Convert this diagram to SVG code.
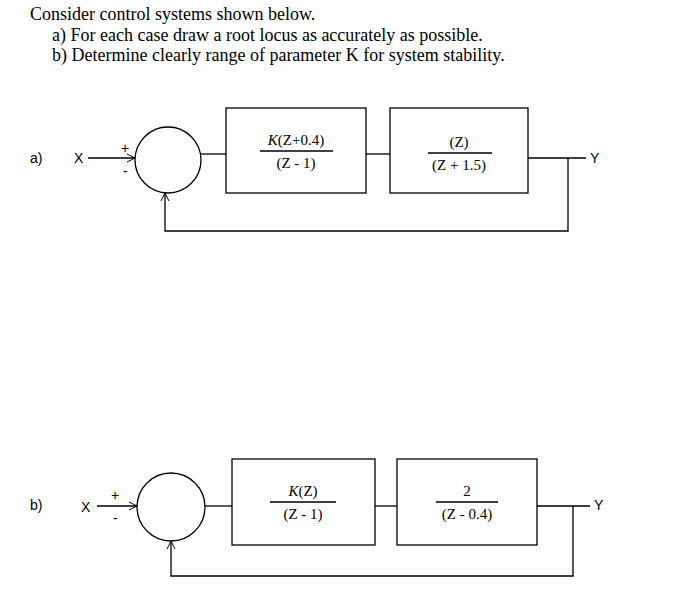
<svg xmlns="http://www.w3.org/2000/svg" width="682" height="605" viewBox="0 0 682 605">
<defs><marker id="ah" markerWidth="10" markerHeight="10" refX="9" refY="5" orient="auto" markerUnits="userSpaceOnUse"><path d="M1,1 L9,5 L1,9" fill="none" stroke="#000" stroke-width="1"/></marker></defs>
<style>
.t{font-family:"Liberation Serif",serif;font-size:18px;fill:#000}
.s{font-family:"Liberation Sans",sans-serif;font-size:14px;fill:#000}
.f{font-family:"Liberation Serif",serif;font-size:15px;fill:#000;text-anchor:middle}
.b{fill:#fff;stroke:#000;stroke-width:1.3}
.l{fill:none;stroke:#000;stroke-width:1.3}
</style>
<rect width="682" height="605" fill="#fff"/>
<text class="t" x="30" y="20">Consider control systems shown below.</text>
<text class="t" x="52" y="41">a) For each case draw a root locus as accurately as possible.</text>
<text class="t" x="52" y="61">b) Determine clearly range of parameter K for system stability.</text>
<g id="a">
<text class="s" x="30" y="163">a)</text>
<text class="s" x="74" y="163">X</text>
<text class="s" x="121" y="153" font-size="12">+</text>
<text class="s" x="123" y="176" font-size="12">-</text>
<g id="sumA"><ellipse class="b" cx="168" cy="160" rx="33" ry="33"/></g>
<g id="g1a"><rect class="b" x="226" y="108" width="140" height="85"/>
<text class="f" x="296" y="145"><tspan font-style="italic">K</tspan>(Z+0.4)</text><line class="l" x1="260" y1="151" x2="333" y2="151" stroke-width="0.8"/><text class="f" x="296" y="168">(Z - 1)</text></g>
<g id="g2a"><rect class="b" x="390" y="108" width="138" height="85"/>
<text class="f" x="459" y="147">(Z)</text><line class="l" x1="428" y1="153" x2="492" y2="153" stroke-width="0.8"/><text class="f" x="459" y="170">(Z  +  1.5)</text></g>
<text class="s" x="590" y="163">Y</text>
</g>
<g id="b">
<text class="s" x="30" y="510">b)</text>
<text class="s" x="81" y="512">X</text>
<text class="s" x="111" y="500" font-size="12">+</text>
<text class="s" x="113" y="523" font-size="12">-</text>
<g id="sumB"><ellipse class="b" cx="171" cy="507" rx="34" ry="34"/></g>
<g id="g1b"><rect class="b" x="232" y="459" width="143" height="86"/>
<text class="f" x="303" y="496"><tspan font-style="italic">K</tspan>(Z)</text><line class="l" x1="270" y1="502" x2="336" y2="502" stroke-width="0.8"/><text class="f" x="303" y="519">(Z - 1)</text></g>
<g id="g2b"><rect class="b" x="397" y="459" width="140" height="86"/>
<text class="f" x="467" y="496">2</text><line class="l" x1="436" y1="502" x2="498" y2="502" stroke-width="0.8"/><text class="f" x="467" y="519">(Z - 0.4)</text></g>
<text class="s" x="594" y="510">Y</text>
</g>
<g id="connectors">
<line class="l" x1="88" y1="158" x2="135" y2="158" marker-end="url(#ah)"/>
<line class="l" x1="201" y1="154" x2="226" y2="154"/>
<line class="l" x1="366" y1="154" x2="390" y2="154"/>
<line class="l" x1="528" y1="158" x2="586" y2="158"/>
<polyline class="l" points="568,158 568,231 165,231 165,193" marker-end="url(#ah)"/>
<line class="l" x1="97" y1="506" x2="137" y2="506" marker-end="url(#ah)"/>
<line class="l" x1="205" y1="506" x2="232" y2="506"/>
<line class="l" x1="375" y1="506" x2="397" y2="506"/>
<line class="l" x1="537" y1="506" x2="590" y2="506"/>
<polyline class="l" points="573,506 573,576 171,576 171,541" marker-end="url(#ah)"/>
</g>
</svg>
